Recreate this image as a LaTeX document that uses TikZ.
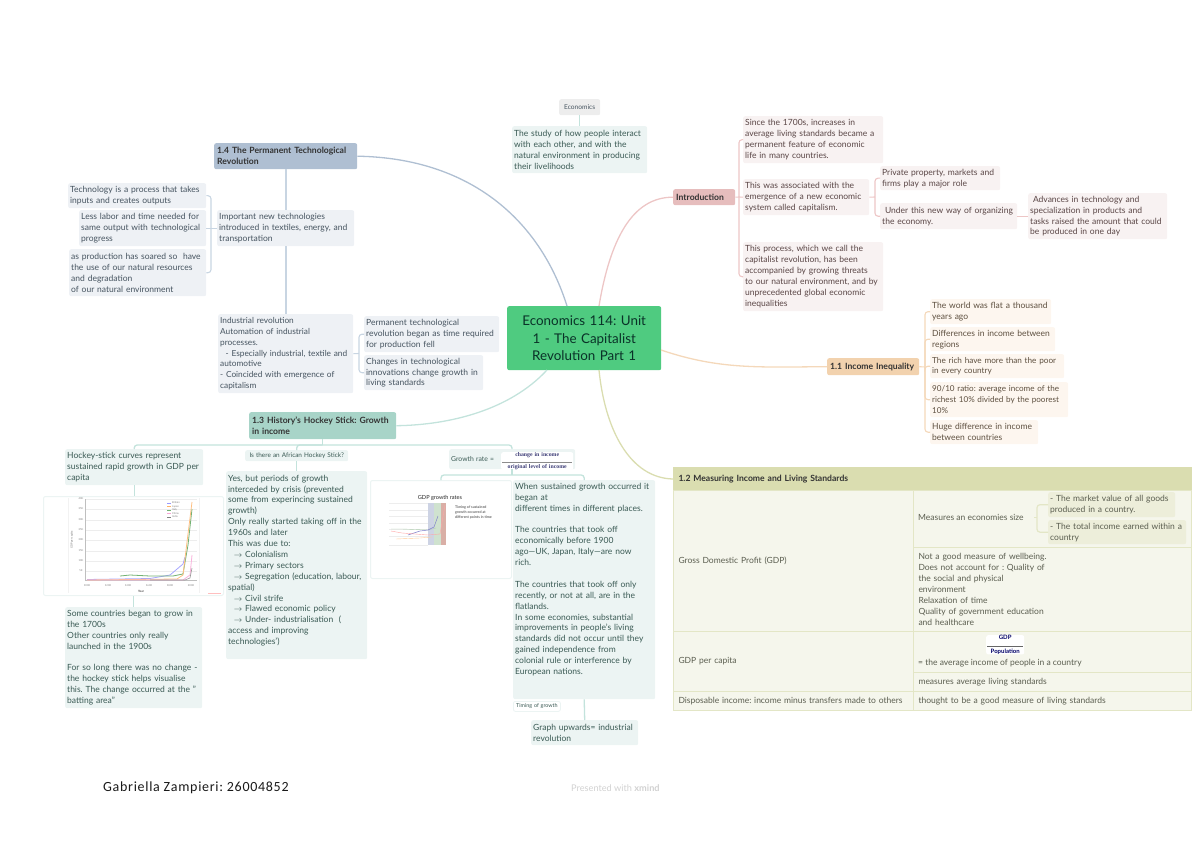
\documentclass[tikz,border=0pt]{standalone}
\usepackage{fontspec}
\setmainfont{Lato}
\newfontfamily\namefont[LetterSpace=5]{Carlito}
\newfontfamily\fracfont{Liberation Serif}
\frenchspacing
\definecolor{centralfill}{HTML}{4FCB80}
\definecolor{centraltext}{HTML}{0A3228}
\definecolor{greyfill}{HTML}{EEF1F5}
\definecolor{greyline}{HTML}{C8D5E2}
\definecolor{greyhead}{HTML}{AFBFD2}
\definecolor{greytext}{HTML}{465460}
\definecolor{greenfill}{HTML}{ECF4F3}
\definecolor{greenline}{HTML}{C3E3DC}
\definecolor{greenhead}{HTML}{A8D4C8}
\definecolor{greentext}{HTML}{3A5A54}
\definecolor{pinkfill}{HTML}{F8F2F2}
\definecolor{pinkline}{HTML}{EDC6C6}
\definecolor{pinkhead}{HTML}{E6BDBD}
\definecolor{pinktext}{HTML}{5A4646}
\definecolor{orangefill}{HTML}{FDF6EF}
\definecolor{orangeline}{HTML}{F4D8BA}
\definecolor{orangehead}{HTML}{F2D2AE}
\definecolor{orangetext}{HTML}{5E5040}
\definecolor{tablehead}{HTML}{DADDB0}
\definecolor{tablefill}{HTML}{F5F6EC}
\definecolor{tableline}{HTML}{E3E6C6}
\definecolor{tabletext}{HTML}{5B5E50}
\definecolor{bandblue}{HTML}{CDD3E4}
\definecolor{bandgreen}{HTML}{CFE2CF}
\definecolor{bandred}{HTML}{D9AFA6}
\tikzset{
    every node/.style={font=\fontsize{8.5}{10.9}\selectfont, inner ysep=0pt, inner xsep=2pt, align=left, anchor=north west},
    mmbox/.style={rectangle, rounded corners=2pt},
    greybox/.style={mmbox, fill=greyfill, text=greytext},
    greenbox/.style={mmbox, fill=greenfill, text=greentext},
    pinkbox/.style={mmbox, fill=pinkfill, text=pinktext},
    orangebox/.style={mmbox, fill=orangefill, text=orangetext},
    headbox/.style={mmbox, inner xsep=3pt, text=black!80, font=\fontsize{8.6}{10.9}\selectfont\bfseries},
    cellbox/.style={rectangle, fill=tablefill, draw=tableline, line width=1pt, text=tabletext, inner xsep=5pt},
    framebox/.style={mmbox, fill=white, draw=greenfill, line width=1pt},
    curveline/.style={line width=1.3pt},
    greytree/.style={draw=greyline, line width=1.1pt, rounded corners=3pt},
    greentree/.style={draw=greenline, line width=1.3pt, rounded corners=3pt},
    pinktree/.style={draw=pinkline, line width=1.1pt, rounded corners=3pt},
    orangetree/.style={draw=orangeline, line width=1.1pt, rounded corners=3pt},
    tabletree/.style={draw=tableline, line width=1.2pt, rounded corners=3pt},
}

\begin{document}
\begin{tikzpicture}[x=1pt, y=-1pt]
    \useasboundingbox (0,0) rectangle (1200,848);

    % Central topic
    \node[mmbox, fill=centralfill, text=centraltext, font=\fontsize{13.4}{17.8}\selectfont, align=center,
        text width=150pt, minimum height=64pt] (central) at (507,306)
        {Economics 114: Unit\\1 - The Capitalist\\Revolution Part 1};
    \coordinate (c14) at (567,306);
    \coordinate (c13) at (547,370);
    \coordinate (cintro) at (599,306);
    \coordinate (cincome) at (661,350);
    \coordinate (c12) at (599,370);

    % 1.4 branch
    \node[headbox, fill=greyhead, text width=137pt, minimum height=26pt] (h14) at (214,143)
        {1.4 The Permanent Technological\\Revolution};
    \node[greybox, text width=134pt, minimum height=25pt] (tech) at (68,183)
        {Technology is a process that takes\\inputs and creates outputs};
    \node[greybox, text width=123pt, minimum height=36pt] (lesslabor) at (79,210)
        {Less labor and time needed for\\same output with technological\\progress};
    \node[greybox, text width=133pt, minimum height=47pt] (production) at (69,249)
        {as production has soared so\ \ have\\the use of our natural resources\\and degradation\\of our natural environment};
    \node[greybox, text width=133pt, minimum height=36pt] (important) at (217,210)
        {Important new technologies\\introduced in textiles, energy, and\\transportation};
    \node[greybox, font=\fontsize{8.3}{10.9}\selectfont, text width=131pt, minimum height=79pt] (industrial) at (218,314)
        {Industrial revolution\\Automation of industrial\\processes.\\\ \ - Especially industrial, textile and\\automotive\\- Coincided with emergence of\\capitalism};
    \node[greybox, text width=131pt, minimum height=36pt] (permanent) at (364,316)
        {Permanent technological\\revolution began as time required\\for production fell};
    \node[greybox, text width=115pt, minimum height=35pt] (changes) at (364,355)
        {Changes in technological\\innovations change growth in\\living standards};
    \coordinate (hubtech) at (211,228);
    \coordinate (hubind) at (359,353.5);

    % 1.3 branch
    \node[headbox, fill=greenhead, text width=141pt, minimum height=27pt] (h13) at (249,412)
        {1.3 History's Hockey Stick: Growth\\in income};
    \node[greenbox, text width=134pt, minimum height=36pt] (hockey) at (65,449)
        {Hockey-stick curves represent\\sustained rapid growth in GDP per\\capita};
    \node[framebox, minimum width=180pt, minimum height=99pt] (chartone) at (43,496) {};
    \node[greenbox, text width=133pt, minimum height=101pt] (some) at (65,607)
        {Some countries began to grow in\\the 1700s\\Other countries only really\\launched in the 1900s\\[10.9pt]For so long there was no change -\\the hockey stick helps visualise\\this. The change occurred at the "\\batting area"};
    \node[greenbox, font=\fontsize{6.4}{8}\selectfont, align=center, text width=99pt, minimum height=11pt] (isthere) at (245,450)
        {Is there an African Hockey Stick?};
    \node[greenbox, text width=137pt, minimum height=188pt] (yes) at (226,471)
        {Yes, but periods of growth\\interceded by crisis (prevented\\some from experincing sustained\\growth)\\Only really started taking off in the\\1960s and later\\This was due to:\\\ \ $\rightarrow$ Colonialism\\\ \ $\rightarrow$ Primary sectors\\\ \ $\rightarrow$ Segregation (education, labour,\\spatial)\\\ \ $\rightarrow$ Civil strife\\\ \ $\rightarrow$ Flawed economic policy\\\ \ $\rightarrow$ Under- industrialisation\ \ (\\access and improving\\technologies')\\\mbox{}};
    \node[greenbox, font=\fontsize{6.8}{9}\selectfont, text width=122pt, minimum height=20pt] (rate) at (449,449)
        {Growth rate =};
    \node[mmbox, fill=white, inner xsep=0pt, font=\fracfont\bfseries\fontsize{5.8}{7.2}\selectfont, text=blue!30!black!75, align=center, text width=72pt, minimum height=15pt] (ratefrac) at (501,452)
        {change in income\\[-0.6pt]\textcolor{black!45}{\rule{70pt}{0.4pt}}\\[-1.5pt]original level of income};
    \node[framebox, minimum width=141pt, minimum height=98pt] (charttwo) at (370,480) {};
    \node[greenbox, text width=138pt, minimum height=219pt] (when) at (513,480)
        {When sustained growth occurred it\\began at\\different times in different places.\\[10.9pt]The countries that took off\\economically before 1900\\ago---UK, Japan, Italy---are now\\rich.\\[10.9pt]The countries that took off only\\recently, or not at all, are in the\\flatlands.\\In some economies, substantial\\improvements in people's living\\standards did not occur until they\\gained independence from\\colonial rule or interference by\\European nations.\\\mbox{}\\\mbox{}};
    \node[mmbox, fill=white, draw=greenfill, line width=0.8pt, text=greentext, font=\fontsize{5.4}{7}\selectfont, align=center, text width=43pt, minimum height=10pt] (timing) at (513,701)
        {Timing of growth};
    \node[greenbox, text width=103pt, minimum height=25pt] (upwards) at (531,720)
        {Graph upwards= industrial\\revolution};
    \coordinate (hub13) at (322.5,445);
    \coordinate (hubrate) at (512,475);

    % Economics
    \node[mmbox, fill=black!7, text=greytext, font=\fontsize{6.6}{8}\selectfont, align=center, text width=37pt, minimum height=16pt] (economics) at (559,99)
        {Economics};
    \node[greenbox, text width=131pt, minimum height=47pt] (study) at (512,126)
        {The study of how people interact\\with each other, and with the\\natural environment in producing\\their livelihoods};

    % Introduction
    \node[headbox, fill=pinkhead, text width=56pt, minimum height=16pt] (intro) at (673,189)
        {Introduction};
    \node[pinkbox, text width=136pt, minimum height=47pt] (since) at (743,116)
        {Since the 1700s, increases in\\average living standards became a\\permanent feature of economic\\life in many countries.};
    \node[pinkbox, text width=122pt, minimum height=36pt] (associated) at (743,179)
        {This was associated with the\\emergence of a new economic\\system called capitalism.};
    \node[pinkbox, text width=136pt, minimum height=69pt] (process) at (743,242)
        {This process, which we call the\\capitalist revolution, has been\\accompanied by growing threats\\to our natural environment, and by\\unprecedented global economic\\inequalities};
    \node[pinkbox, text width=116pt, minimum height=24pt] (private) at (880,166)
        {Private property, markets and\\firms play a major role};
    \node[pinkbox, text width=133pt, minimum height=26pt] (under) at (880,203)
        {\ Under this new way of organizing\\the economy.};
    \node[pinkbox, text width=135pt, minimum height=46pt] (advances) at (1028,193)
        {\ Advances in technology and\\specialization in products and\\tasks raised the amount that could\\be produced in one day};
    \coordinate (hubintro) at (739,197);
    \coordinate (hubassoc) at (875,197);

    % 1.1 Income inequality
    \node[headbox, fill=orangehead, text width=86pt, minimum height=17pt] (income) at (827,358)
        {1.1 Income Inequality};
    \node[orangebox, text width=117pt, minimum height=25pt] (flat) at (930,299)
        {The world was flat a thousand\\years ago};
    \node[orangebox, text width=121pt, minimum height=24pt] (regions) at (930,327)
        {Differences in income between\\regions};
    \node[orangebox, font=\fontsize{8.2}{10.9}\selectfont, text width=130pt, minimum height=24pt] (rich) at (930,354)
        {The rich have more than the poor\\in every country};
    \node[orangebox, font=\fontsize{8.1}{10.9}\selectfont, text width=134pt, minimum height=35pt] (ratio) at (930,382)
        {90/10 ratio: average income of the\\richest 10\% divided by the poorest\\10\%};
    \node[orangebox, text width=104pt, minimum height=24pt] (huge) at (930,420)
        {Huge difference in income\\between countries};
    \coordinate (hubincome) at (925,367);

    % 1.2 table
    \node[rectangle, fill=tablehead, draw=tablehead, line width=1pt, text=black!80, font=\fontsize{8.6}{10.9}\selectfont\bfseries, inner xsep=5pt, text width=508pt, minimum height=23pt] (h12) at (673,467)
        {1.2 Measuring Income and Living Standards};
    \node[cellbox, text width=230pt, minimum height=141pt] (gdp) at (673,490) {Gross Domestic Profit (GDP)};
    \node[cellbox, text width=230pt, minimum height=60pt] (percapita) at (673,631) {GDP per capita};
    \node[cellbox, text width=230pt, minimum height=19pt] (disposable) at (673,691) {Disposable income: income minus transfers made to others};
    \node[cellbox, text width=268pt, minimum height=57pt] (sizecell) at (913,490) {};
    \node[cellbox, text width=268pt, minimum height=84pt] (wellcell) at (913,547)
        {Not a good measure of wellbeing.\\Does not account for : Quality of\\the social and physical\\environment\\Relaxation of time\\Quality of government education\\and healthcare};
    \node[cellbox, text width=268pt, minimum height=41pt] (avgcell) at (913,631) {};
    \node[cellbox, text width=268pt, minimum height=19pt] (stdcell) at (913,672) {measures average living standards};
    \node[cellbox, text width=268pt, minimum height=19pt] (goodcell) at (913,691) {thought to be a good measure of living standards};
    \node[text=tabletext, anchor=west, inner xsep=0pt] (measures) at (918,517.5) {Measures an economies size};
    \node[mmbox, fill=tablehead!30!tablefill, text=tabletext, text width=123pt, minimum height=25pt] (market) at (1048,492)
        {- The market value of all goods\\produced in a country.};
    \node[mmbox, fill=tablehead!30!tablefill, text=tabletext, text width=134pt, minimum height=24pt] (total) at (1048,520)
        {- The total income earned within a\\country};
    \node[mmbox, fill=white, inner xsep=0pt, text=blue!40!black, font=\fontsize{6}{7.6}\selectfont\bfseries, align=center, text width=38pt, minimum height=18pt] (gdpfrac) at (986,635)
        {GDP\\[-0.4pt]\textcolor{black!60}{\rule{36pt}{0.5pt}}\\[-1pt]Population};
    \node[text=tabletext, anchor=west, inner xsep=0pt] (averagetext) at (918,663) {= the average income of people in a country};
    \coordinate (hubsize) at (1037,517.5);

    % Curves from the central topic
    \draw[greyhead, curveline] (h14.east) .. controls (470,158) and (540,220) .. (c14);
    \draw[greenline, curveline] (h13.east) .. controls (450,425) and (510,410) .. (c13);
    \draw[pinkline, curveline] (intro.west) .. controls (632,197) and (610,240) .. (cintro);
    \draw[orangeline, curveline] (income.west) .. controls (760,367) and (720,370) .. (cincome);
    \draw[tablehead, curveline] (h12.west) .. controls (630,478) and (605,430) .. (c12);

    % Grey tree
    \draw[greyline, line width=2pt] (h14.south -| important.north) -- (important.north);
    \draw[greyline, line width=2pt] (important.south) -- (important.south |- industrial.north);
    \draw[greytree] (important.west) -- (lesslabor.east);
    \draw[greytree] (tech.east) -| (hubtech) |- (production.east);
    \draw[greytree] (industrial.east) -- (hubind);
    \draw[greytree] (permanent.west) -| (hubind) |- (changes.west);

    % Green tree
    \draw[greentree] (h13.south -| hub13) -- (hub13);
    \draw[greentree] (hockey.north) |- (hub13) -| (rate.north -| hubrate);
    \draw[greentree] (isthere.north) |- (hub13);
    \draw[greentree] (isthere.south) -- (isthere.south |- yes.north);
    \draw[greentree] (hockey.south) -- (hockey.south |- chartone.north);
    \draw[greentree] (chartone.south -| some.north) -- (some.north);
    \draw[greentree] (rate.south -| hubrate) -- (hubrate);
    \draw[greentree] (charttwo.north) |- (hubrate) -| (when.north);
    \draw[greentree] (when.south) -- (upwards.north);
    \draw[greentree, line width=1pt] (economics.south) -- (economics.south |- study.north);

    % Pink tree
    \draw[pinktree] (intro.east) -- (hubintro);
    \draw[pinktree] (since.west) -| (hubintro) |- (process.west);
    \draw[pinktree] (hubintro) -- (associated.west);
    \draw[pinktree] (associated.east) -- (hubassoc);
    \draw[pinktree] (private.west) -| (hubassoc) |- (under.west);
    \draw[pinktree] (under.east |- advances.west) -- (advances.west);

    % Orange tree
    \draw[orangetree] (income.east) -- (hubincome);
    \draw[orangetree] (flat.west) -| (hubincome) |- (huge.west);
    \draw[orangetree] (regions.west) -| (hubincome);
    \draw[orangetree] (rich.west) -| (hubincome);
    \draw[orangetree] (ratio.west) -| (hubincome);

    % Table bracket
    \draw[tabletree] (measures.east -| hubsize) ++(-3,0) -- (hubsize);
    \draw[tabletree] (market.west) -| (hubsize) |- (total.west);

    % First chart
    \draw[black!5, line width=0.5pt] (68,498) -- (68,593) (199,498) -- (199,593);
    \foreach \yy in {499,509,520,530,540,551,561,571} {
        \draw[black!7, line width=0.6pt] (85,\yy) -- (197,\yy);
    }
    \draw[black!25, line width=0.4pt] (85,499) -- (85,580) -- (197,580);
    \foreach \xx/\yr in {87/1000,108/1200,128/1400,149/1600,170/1800,191/2000} {
        \node[anchor=center, font=\fontsize{2.6}{3}\selectfont, text=black!50] at (\xx,586) {\yr};
    }
    \foreach \yy/\val in {499/40K,509/35K,520/30K,530/25K,540/20K,551/15K,561/10K,571/5K} {
        \node[anchor=center, font=\fontsize{2.6}{3}\selectfont, text=black!50] at (81,\yy) {\val};
    }
    \node[anchor=center, rotate=90, font=\fontsize{2.6}{3}\selectfont, text=black!60] at (72,540) {GDP per capita};
    \node[anchor=center, font=\fontsize{3}{3.4}\selectfont\bfseries, text=black!70] at (141,591) {Year};
    \draw[blue!35, line width=0.8pt] (87,579.5) -- (150,578.5) -- (170,575) -- (183,564) -- (185,557);
    \draw[green!45!black!55, line width=0.8pt] (120,576) -- (130,575) -- (150,576) -- (173,576) -- (183,574) -- (188,545) -- (192,509);
    \draw[orange!50, line width=0.8pt] (87,580) -- (177,579) -- (183,575) -- (187,542) -- (192,502);
    \draw[magenta!30, line width=0.8pt] (87,580) -- (183,580) -- (190,575) -- (192,555);
    \draw[black!40, line width=0.6pt] (150,580) -- (185,580) -- (190,578) -- (192,568);
    \foreach \yy/\cc/\who in {503/blue!40/Britain,506.5/orange!60/Japan,510/green!45!black!55/Italy,513.5/magenta!35/China,517/black!50/India} {
        \draw[\cc, line width=0.5pt] (167,\yy) -- (171,\yy);
        \node[anchor=west, inner xsep=0pt, font=\fontsize{2.6}{3}\selectfont, text=black!50] at (172,\yy) {\who};
    }
    \fill[red!25] (208,592.5) rectangle (221,594);

    % Second chart
    \node[anchor=center, font=\fontsize{5.6}{7}\selectfont, text=black!85] at (440,498) {GDP growth rates};
    \fill[bandblue] (428,503) rectangle (434,545);
    \fill[bandgreen] (434,503) rectangle (441,545);
    \fill[bandred] (441,503) rectangle (446,545);
    \foreach \yy in {503,510,516,523,529,536,545} {
        \draw[black!7, line width=0.3pt] (389,\yy) -- (428,\yy);
    }
    \draw[green!40!black!30, line width=0.4pt] (391,529) -- (402,529) -- (428,530) -- (436,528);
    \draw[blue!60!black!50, line width=0.5pt] (408,535) -- (420,531) -- (428,530) -- (434,527) -- (438,516);
    \draw[red!35, line width=0.4pt] (391,531) -- (402,533) -- (428,535) -- (440,534) -- (445,505);
    \draw[orange!40, line width=0.4pt] (396,539) -- (420,538) -- (432,537);
    \node[font=\fontsize{3.6}{5}\selectfont\bfseries, text=black!60, inner xsep=0pt] (timingtext) at (455,506)
        {Timing of sustained\\growth occurred at\\different points in time};

    % Footer
    \node[anchor=west, inner xsep=0pt, font=\namefont\fontsize{14}{16}\selectfont, text=black!90] (author) at (103,788) {Gabriella Zampieri: 26004852};
    \node[anchor=west, inner xsep=0pt, font=\fontsize{9.2}{10}\selectfont, text=black!18] (xmind) at (571,788) {Presented with \textbf{xmind}};
\end{tikzpicture}
\end{document}
